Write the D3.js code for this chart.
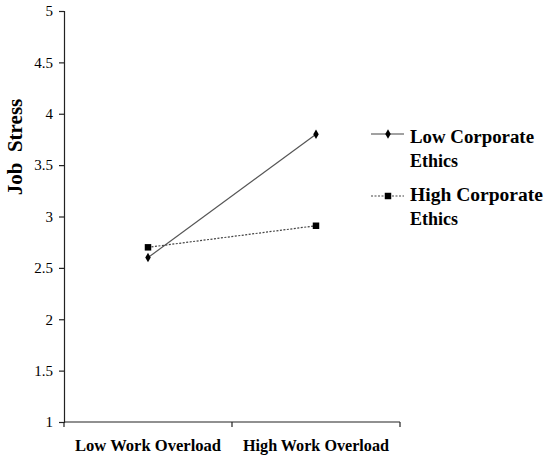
<!DOCTYPE html>
<html>
<head>
<meta charset="utf-8">
<script src="https://cdn.jsdelivr.net/npm/d3@7"></script>
<style>
  body { margin: 0; background: #fff; }
  svg { display: block; }
</style>
</head>
<body>
<div class="chart-container"></div>
<script>
// Data
const categories = ["Low Work Overload", "High Work Overload"];
const lowEthics = [2.6, 3.8];
const highEthics = [2.7, 2.91];
const seriesNames = ["Low Corporate Ethics", "High Corporate Ethics"];
const yTicks = [1, 1.5, 2, 2.5, 3, 3.5, 4, 4.5, 5];

const width = 550;
const height = 458;
const marginTop = 11;
const marginLeft = 64;
const plotRight = 400;
const plotBottom = 422;

const serif = "'Liberation Serif', 'Times New Roman', serif";

const x = d3.scaleBand()
    .domain(categories)
    .range([marginLeft, plotRight]);

const y = d3.scaleLinear()
    .domain([1, 5])
    .range([plotBottom, marginTop]);

const svg = d3.select('.chart-container').append("svg")
    .attr("width", width)
    .attr("height", height);

// y axis
const yAxis = svg.append("g")
    .attr("transform", `translate(${marginLeft},0)`)
    .call(d3.axisLeft(y).tickValues(yTicks).tickSize(5).tickPadding(6).tickFormat(d3.format('')));
yAxis.selectAll("text")
    .style("font-family", serif)
    .style("font-size", "15px")
    .attr("fill", "#000");
yAxis.selectAll("line, path").attr("stroke", "#222").attr("stroke-width", 1.2);

// x axis with ticks at category boundaries
const xAxis = svg.append("g")
    .attr("transform", `translate(0,${plotBottom})`);
xAxis.append("line")
    .attr("x1", marginLeft).attr("x2", plotRight)
    .attr("stroke", "#222").attr("stroke-width", 1.2);
const bounds = [marginLeft, x(categories[1]), plotRight];
xAxis.selectAll(".tk")
    .data(bounds)
    .enter()
    .append("line")
    .attr("x1", d => d).attr("x2", d => d)
    .attr("y1", 0).attr("y2", 5)
    .attr("stroke", "#222").attr("stroke-width", 1.2);
xAxis.selectAll(".cat")
    .data(categories)
    .enter()
    .append("text")
    .attr("x", d => x(d) + x.bandwidth() / 2)
    .attr("y", 29)
    .attr("text-anchor", "middle")
    .attr("textLength", 146)
    .attr("lengthAdjust", "spacingAndGlyphs")
    .style("font-family", serif)
    .style("font-size", "16px")
    .style("font-weight", "bold")
    .text(d => d);

// y title
svg.append("text")
    .attr("transform", `translate(22,147) rotate(-90)`)
    .attr("text-anchor", "middle")
    .style("font-family", serif)
    .style("font-size", "21px")
    .style("font-weight", "bold")
    .attr("xml:space", "preserve")
    .text("Job  Stress");

const cx = d => x(d) + x.bandwidth() / 2;
const line = d3.line()
    .x((d, i) => cx(categories[i]))
    .y(d => y(d));

// Low corporate ethics (solid, diamonds)
svg.append("path")
    .datum(lowEthics)
    .attr("d", line)
    .attr("fill", "none")
    .attr("stroke", "#555")
    .attr("stroke-width", 1.2);

const diamond = d3.symbol().type(d3.symbolDiamond).size(26);
const square = d3.symbol().type(d3.symbolSquare).size(42);

svg.selectAll(".dia")
    .data(lowEthics)
    .enter()
    .append("path")
    .attr("d", diamond)
    .attr("transform", (d, i) => `translate(${cx(categories[i])},${y(d)})`)
    .attr("fill", "#000");

// High corporate ethics (dotted, squares)
svg.append("path")
    .datum(highEthics)
    .attr("d", line)
    .attr("fill", "none")
    .attr("stroke", "#444")
    .attr("stroke-width", 1.2)
    .attr("stroke-dasharray", "2,1.5");

svg.selectAll(".sq")
    .data(highEthics)
    .enter()
    .append("path")
    .attr("d", square)
    .attr("transform", (d, i) => `translate(${cx(categories[i])},${y(d)})`)
    .attr("fill", "#000");

// Legend
const legend = svg.append("g");
const legendRows = [
    { name: seriesNames[0], y: 134, t1: 143, t2: 167, dash: null, sym: diamond, w: 124 },
    { name: seriesNames[1], y: 196, t1: 201, t2: 225, dash: "2,1.5", sym: square, w: 133 }
];
legendRows.forEach(r => {
    legend.append("line")
        .attr("x1", 371).attr("x2", 404)
        .attr("y1", r.y).attr("y2", r.y)
        .attr("stroke", "#444").attr("stroke-width", 1.2)
        .attr("stroke-dasharray", r.dash);
    legend.append("path")
        .attr("d", r.sym)
        .attr("transform", `translate(388,${r.y})`)
        .attr("fill", "#000");
    const words = r.name.split(" ");
    legend.append("text")
        .attr("x", 410).attr("y", r.t1)
        .attr("textLength", r.w)
        .attr("lengthAdjust", "spacingAndGlyphs")
        .style("font-family", serif)
        .style("font-size", "18px")
        .style("font-weight", "bold")
        .text(words.slice(0, 2).join(" "));
    legend.append("text")
        .attr("x", 410).attr("y", r.t2)
        .style("font-family", serif)
        .style("font-size", "18px")
        .style("font-weight", "bold")
        .text(words[2]);
});
</script>
</body>
</html>
